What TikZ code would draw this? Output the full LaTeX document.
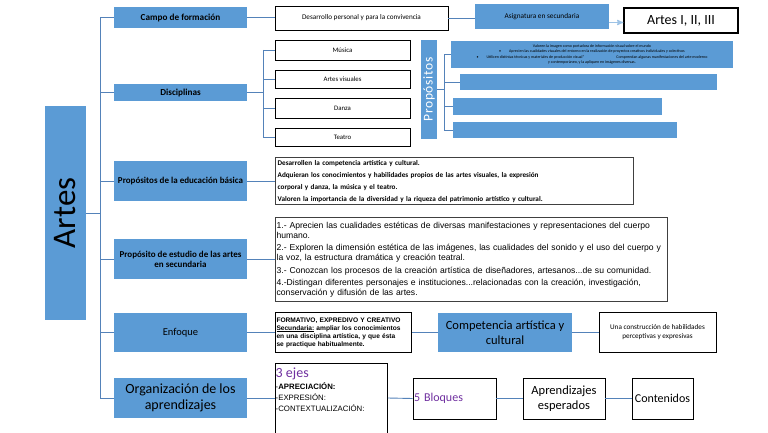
\documentclass[tikz,border=0pt]{standalone}
\usepackage{fontspec}
\setmainfont{Carlito}
\newfontfamily\arialfont{Liberation Sans}
\usepackage{graphicx}
\usetikzlibrary{arrows,positioning}
\definecolor{boxblue}{RGB}{91,155,213}
\definecolor{linkblue}{RGB}{84,130,185}
\definecolor{paleblue}{RGB}{157,195,230}
\definecolor{ejepurple}{RGB}{112,48,160}

\begin{document}
\begin{tikzpicture}[x=1pt,y=-1pt,
    sz/.style 2 args={minimum width=#1pt,minimum height=#2pt},
    blue node/.style={fill=boxblue,inner sep=1pt,align=center},
    white node/.style={draw=black,fill=white,line width=0.8pt,inner sep=1pt,align=center},
    text node/.style={draw=black!75,line width=1.3pt,fill=white,inner sep=2pt,align=left,anchor=north west},
    link/.style={draw=linkblue,line width=0.9pt}]
  \clip (0,0) rectangle (768,433);
  \fill[white] (0,0) rectangle (768,433);

  % main column
  \node[blue node,sz={41}{214}] (artes) at (65.5,213) {\rotatebox{90}{\fontsize{33}{33}\selectfont Artes}};
  \coordinate (trunk) at (100,213);

  \node[blue node,sz={133}{21},font=\fontsize{9.2}{10}\selectfont\bfseries] (campo) at (180.5,17.5) {Campo de formación};
  \node[blue node,sz={133}{17},font=\fontsize{9.2}{10}\selectfont\bfseries] (discip) at (180.5,92.5) {Disciplinas};
  \node[blue node,sz={133}{40},font=\fontsize{9}{10}\selectfont\bfseries] (propedu) at (180.5,181) {Propósitos de la educación básica};
  \node[blue node,sz={133}{40},font=\fontsize{9}{10}\selectfont\bfseries] (propsec) at (180.5,259) {Propósito de estudio de las artes\\en secundaria};
  \node[blue node,sz={133}{39},font=\fontsize{10.5}{12}\selectfont] (enfoque) at (180.5,332.5) {Enfoque};
  \node[blue node,sz={133}{40},font=\fontsize{14}{16}\selectfont] (organiz) at (180.5,398) {Organización de los\\aprendizajes};

  % campo de formacion
  \node[white node,sz={173}{24},font=\fontsize{7.2}{8}\selectfont] (desarrollo) at (361.5,18) {Desarrollo personal y para la convivencia};
  \node[blue node,sz={134}{25},font=\fontsize{7.3}{8}\selectfont] (asignatura) at (542,16.5) {Asignatura en secundaria};
  \node[white node,line width=1.5pt,sz={114}{25},font=\fontsize{14}{15}\selectfont] (artesIII) at (681,20.5) {Artes I, II, III};

  % disciplinas
  \coordinate (dtrunk) at (263,92.5);
  \node[white node,sz={135}{20},font=\fontsize{6.8}{8}\selectfont] (musica) at (342.5,50) {Música};
  \node[white node,sz={135}{18},font=\fontsize{6.8}{8}\selectfont] (visuales) at (342.5,79) {Artes visuales};
  \node[white node,sz={135}{20},font=\fontsize{6.8}{8}\selectfont] (danza) at (342.5,108) {Danza};
  \node[white node,sz={135}{18},font=\fontsize{6.8}{8}\selectfont] (teatro) at (342.5,137) {Teatro};

  % propositos
  \node[blue node,sz={16}{99}] (propositos) at (429,89.5) {\rotatebox{90}{\color{white}\fontsize{13.5}{14}\selectfont P\kern.6ptr\kern.6pto\kern.6ptp\kern.6ptó\kern.6pts\kern.6pti\kern.6ptt\kern.6pto\kern.6pts}};
  \coordinate (ptrunk) at (444,89.5);
  \node[blue node,sz={282}{27},font=\fontsize{4}{5.6}\selectfont] (pa) at (592,54.5)
    {Valoren la imagen como portadora de información visual sobre el mundo\\
     \textbullet\qquad Aprecien las cualidades visuales del entorno en la realización de proyectos creativos individuales y colectivos\\
     \textbullet\qquad Utilicen distintas técnicas y materiales de producción visual*\qquad\qquad\qquad\qquad Comprendan algunas manifestaciones del arte moderno\\
     y contemporáneo, y la apliquen en imágenes diversas.};
  \node[blue node,sz={257}{16}] (pb) at (588.5,82) {};
  \node[blue node,sz={209}{17}] (pc) at (557.5,106.5) {};
  \node[blue node,sz={224}{16}] (pd) at (565,130) {};

  % textos
  \node[text node,text width=354pt,sz={358}{47},font=\fontsize{7.2}{12}\selectfont\bfseries] (propedutxt) at (275,157)
    {Desarrollen la competencia artística y cultural.\\
     Adquieran los conocimientos y habilidades propios de las artes visuales, la expresión\\
     corporal y danza, la música y el teatro.\\
     Valoren la importancia de la diversidad y la riqueza del patrimonio artístico y cultural.};
  \node[text node,text width=390pt,inner xsep=1pt,sz={392}{84},font=\arialfont\fontsize{8.6}{10}\selectfont] (propsectxt) at (275,217)
    {\mbox{1.- Aprecien las cualidades estéticas de diversas manifestaciones y representaciones  del cuerpo}\\
     humano.\\[2.5pt]
     \mbox{2.- Exploren la dimensión estética de las imágenes, las cualidades del sonido y el uso del cuerpo y}\\
     la voz, la estructura dramática y creación teatral.\\[2.5pt]
     \mbox{3.- Conozcan los procesos de la creación artística de diseñadores, artesanos...de su comunidad.}\\[2.5pt]
     \mbox{4.-Distingan diferentes personajes e instituciones...relacionadas con la creación, investigación,}\\
     conservación y difusión de las artes.};

  % enfoque
  \node[text node,draw=black,line width=1pt,inner sep=1pt,text width=134pt,sz={136}{40},font=\arialfont\fontsize{6.6}{8}\selectfont\bfseries] (formativo) at (275,312)
    {FORMATIVO, EXPREDIVO Y CREATIVO\\
     \underline{Secundaria:} ampliar los conocimientos\\
     en una disciplina artística, y que ésta\\
     se practique habitualmente.};
  \node[blue node,sz={134}{39},font=\fontsize{12.5}{15}\selectfont] (competencia) at (505,332.5) {Competencia artística y\\cultural};
  \node[white node,sz={117}{40},font=\fontsize{7.2}{9}\selectfont] (construccion) at (657.5,332) {Una construcción de habilidades\\perceptivas y expresivas};

  % organizacion
  \node[white node,anchor=north west,sz={112}{82}] (ejes) at (275,363) {};
  \node[anchor=north west,align=left,inner sep=0.5pt,font=\arialfont\fontsize{7.8}{11}\selectfont] (ejestxt) at ([yshift=-4pt]ejes.north west)
    {{\normalfont\fontsize{14}{15}\selectfont\color{ejepurple}3 ejes}\\[1pt]
     -\textbf{APRECIACIÓN:}\\
     -EXPRESIÓN:\\
     -CONTEXTUALIZACIÓN:};
  \node[white node,sz={83}{41},text width=81pt,align=left,font=\fontsize{12}{14}\selectfont\color{ejepurple}] (bloques) at (454.5,398.5) {5 Bloques};
  \node[white node,sz={82}{41},font=\fontsize{12.5}{15}\selectfont] (aprend) at (564,398.5) {Aprendizajes\\esperados};
  \node[white node,sz={61}{41},inner sep=0pt,font=\fontsize{12}{14}\selectfont] (conten) at (662.5,398.5) {Contenidos};

  % connectors
  \draw[link] (artes.east) -- (trunk);
  \draw[link] (campo.west -| trunk) -- (organiz.west -| trunk);
  \foreach \n in {campo,discip,propedu,propsec,enfoque,organiz}
    \draw[link] (\n.west) -- (\n.west -| trunk);

  \draw[link] (discip.east) -- (dtrunk);
  \draw[link] (musica.west -| dtrunk) -- (teatro.west -| dtrunk);
  \foreach \n in {musica,visuales,danza,teatro}
    \draw[link] (\n.west) -- (\n.west -| dtrunk);

  \draw[link] (propositos.east) -- (ptrunk);
  \draw[link] (pa.west -| ptrunk) -- (pd.west -| ptrunk);
  \foreach \n in {pa,pb,pc,pd}
    \draw[link] (\n.west) -- (\n.west -| ptrunk);

  \draw[link] (campo.east) -- (campo.east -| desarrollo.west);
  \draw[link] (desarrollo.east) -- (desarrollo.east -| asignatura.west);
  \draw[->,>=stealth',draw=paleblue,line width=1.2pt] ([yshift=-6pt]asignatura.east) -- ([yshift=-6pt]asignatura.east -| artesIII.west);
  \draw[link] (propedu.east) -- (propedu.east -| propedutxt.west);
  \draw[link] (propsec.east) -- (propsec.east -| propsectxt.west);
  \draw[link] (enfoque.east) -- (enfoque.east -| formativo.west);
  \draw[link] (formativo.east) -- (formativo.east -| competencia.west);
  \draw[link] (competencia.east) -- (competencia.east -| construccion.west);
  \draw[link] (organiz.east) -- (organiz.east -| ejes.west);
  \path[link] (organiz.east -| ejes.east) edge (bloques.west)
              (bloques) edge (aprend)
              (aprend) edge (conten);
\end{tikzpicture}
\end{document}
